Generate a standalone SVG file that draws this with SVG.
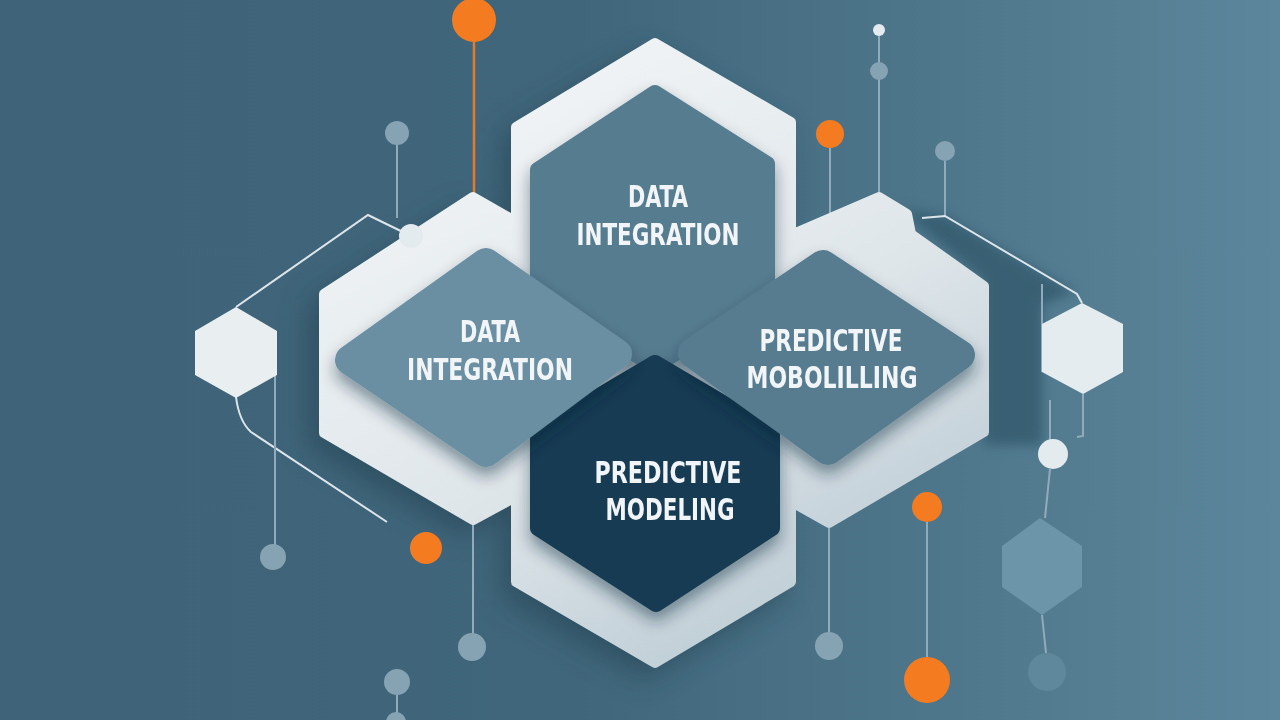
<svg xmlns="http://www.w3.org/2000/svg" width="1280" height="720" viewBox="0 0 1280 720">
  <defs>
    <linearGradient id="bg" x1="0" y1="0" x2="1" y2="0">
      <stop offset="0" stop-color="#3f6378"/>
      <stop offset="0.45" stop-color="#40667b"/>
      <stop offset="1" stop-color="#5c869b"/>
    </linearGradient>
    <linearGradient id="frame" gradientUnits="userSpaceOnUse" x1="480" y1="60" x2="820" y2="660">
      <stop offset="0" stop-color="#f2f5f7"/>
      <stop offset="0.55" stop-color="#dfe6ea"/>
      <stop offset="1" stop-color="#b9c9d2"/>
    </linearGradient>
    <filter id="drop" x="-20%" y="-20%" width="140%" height="150%">
      <feDropShadow dx="0" dy="9" stdDeviation="8" flood-color="#0c2434" flood-opacity="0.45"/>
    </filter>
    <filter id="soft" x="-20%" y="-20%" width="140%" height="140%">
      <feGaussianBlur stdDeviation="14"/>
    </filter>
    <filter id="soft2" x="-20%" y="-20%" width="140%" height="140%">
      <feGaussianBlur stdDeviation="6"/>
    </filter>
    <style>
      .frame { fill: url(#frame); stroke: url(#frame); stroke-width: 10; stroke-linejoin: round; }
      .lbl { font-family: "DejaVu Sans Condensed", "Roboto", "Liberation Sans", sans-serif; font-weight: bold; font-size: 31px; fill: #f1f5f7; text-anchor: middle; }
      .ln { fill: none; stroke: #92abba; stroke-width: 2; }
      .lnw { fill: none; stroke: #dce6eb; stroke-width: 2; }
      .lno { fill: none; stroke: #e8792a; stroke-width: 2.5; }
      .or { fill: #f47b20; }
      .gd { fill: #86a3b4; }
      .wd { fill: #e4ebee; }
      .round { stroke-linejoin: round; }
    </style>
  </defs>

  <rect width="1280" height="720" fill="url(#bg)"/>

  <!-- shadows behind cluster -->
  <g id="shadows" fill="#20414f" opacity="0.55" filter="url(#soft)">
    <polygon points="463,205 620,295 620,450 463,536 308,447 308,304"/>
    <polygon points="645,350 785,432 785,597 645,680 502,597 502,432"/>
    <polygon points="645,50 785,132 785,312 645,392 502,312 502,136"/>
  </g>
  <path d="M900,208 L945,216 L1075,292 L1042,305 L1042,445 L984,445 L984,280 Z" fill="#2f5468" opacity="0.7" filter="url(#soft2)"/>

  <g id="connectors">
    <path class="lno" d="M474,42 V193"/>
    <path class="ln" d="M397,145 V218"/>
    <path class="lnw" d="M411,236 L368,215 L236,307"/>
    <path class="lnw" d="M236,397 Q239,421 251,432 L387,522"/>
    <path class="ln" d="M275,372 V545"/>
    <path class="ln" d="M473,524 V633"/>
    <path class="ln" d="M397,695 V720"/>
    <path class="ln" d="M879,36 V193" stroke="#b3c7d1"/>
    <path class="ln" d="M830,148 V228" stroke="#a9c0cc"/>
    <path class="ln" d="M945,161 V216" stroke="#a9c0cc"/>
    <path class="lnw" d="M922,218 L945,216 L1077,294 L1082,303" stroke="#cfdde4"/>
    <path class="ln" d="M1042,284 V372" stroke="#a9c0cc"/>
    <path class="ln" d="M1083,394 V436 L1077,437" stroke="#a9c0cc"/>
    <path class="ln" d="M1050,400 V440" stroke="#a9c0cc"/>
    <path class="ln" d="M1050,469 L1045,518" stroke="#a9c0cc"/>
    <path class="ln" d="M1042,615 L1046,653"/>
    <path class="ln" d="M927,522 V657" stroke="#b3c4cc"/>
    <path class="ln" d="M829,528 V632"/>
  </g>

  <!-- white frame -->
  <g id="frames">
    <polygon class="frame" points="473,197 625,284 625,438 473,520 324,433 324,294"/>
    <polygon class="frame" points="879,197 907,214 911,234 984,286 984,432 829,523 682,440 682,282"/>
    <polygon class="frame" points="655,663 516,582 516,422 655,344 791,422 791,582"/>
    <polygon class="frame" points="655,43 791,122 791,300 655,380 516,300 516,127"/>
  </g>

  <g id="node-top" filter="url(#drop)">
    <polygon class="round" points="655,93 767,164 767,300 655,365 538,300 538,170" fill="#567c90" stroke="#567c90" stroke-width="16"/>
    <text class="lbl" x="658" y="207" textLength="60" lengthAdjust="spacingAndGlyphs">DATA</text>
    <text class="lbl" x="658" y="245" textLength="163" lengthAdjust="spacingAndGlyphs">INTEGRATION</text>
  </g>

  <g id="node-bottom" filter="url(#drop)">
    <polygon class="round" points="655,363 772,432 772,528 656,604 538,528 538,432" fill="#163b53" stroke="#163b53" stroke-width="16"/>
    <text class="lbl" x="668" y="483" textLength="147" lengthAdjust="spacingAndGlyphs">PREDICTIVE</text>
    <text class="lbl" x="670" y="520" textLength="129" lengthAdjust="spacingAndGlyphs">MODELING</text>
  </g>

  <g id="node-left" filter="url(#drop)">
    <polygon class="round" points="350,360 486,263 617,354 486,452" fill="#6a8fa3" stroke="#6a8fa3" stroke-width="30"/>
    <text class="lbl" x="490" y="342" textLength="60" lengthAdjust="spacingAndGlyphs">DATA</text>
    <text class="lbl" x="490" y="380" textLength="166" lengthAdjust="spacingAndGlyphs">INTEGRATION</text>
  </g>

  <g id="node-right" filter="url(#drop)">
    <polygon class="round" points="693,353 823,265 960,355 828,450" fill="#587c8f" stroke="#587c8f" stroke-width="30"/>
    <text class="lbl" x="831" y="351" textLength="143" lengthAdjust="spacingAndGlyphs">PREDICTIVE</text>
    <text class="lbl" x="832" y="388" textLength="171" lengthAdjust="spacingAndGlyphs">MOBOLILLING</text>
  </g>

  <g id="hex-left-small">
    <polygon points="236,307 277,331 277,375 236,398 195,375 195,331" fill="#e9eef1"/>
  </g>
  <g id="hex-right-small">
    <polygon points="1082,303 1123,324 1123,372 1083,394 1042,372 1042,324" fill="#e5ecef"/>
  </g>
  <g id="hex-right-medium">
    <polygon points="1040,518 1082,546 1082,587 1042,615 1002,587 1002,546" fill="#6d95a9"/>
  </g>

  <g id="dots">
    <circle class="or" cx="474" cy="20" r="22"/>
    <circle class="or" cx="830" cy="134" r="14"/>
    <circle class="or" cx="426" cy="548" r="16"/>
    <circle class="or" cx="927" cy="507" r="15"/>
    <circle class="or" cx="927" cy="680" r="23"/>
    <circle class="gd" cx="397" cy="133" r="12"/>
    <circle class="gd" cx="273" cy="557" r="13"/>
    <circle class="gd" cx="472" cy="647" r="14"/>
    <circle class="gd" cx="397" cy="682" r="13"/>
    <circle class="gd" cx="396" cy="722" r="10"/>
    <circle class="gd" cx="879" cy="71" r="9" fill="#8eaabb"/>
    <circle class="gd" cx="945" cy="151" r="10" fill="#7f9eb0"/>
    <circle class="gd" cx="829" cy="646" r="14" fill="#8ea9b8"/>
    <circle class="wd" cx="411" cy="236" r="12"/>
    <circle class="wd" cx="879" cy="30" r="6"/>
    <circle class="wd" cx="1053" cy="454" r="15" fill="#d3dee4"/>
    <circle cx="1047" cy="672" r="19" fill="#5f889c"/>
  </g>
</svg>
